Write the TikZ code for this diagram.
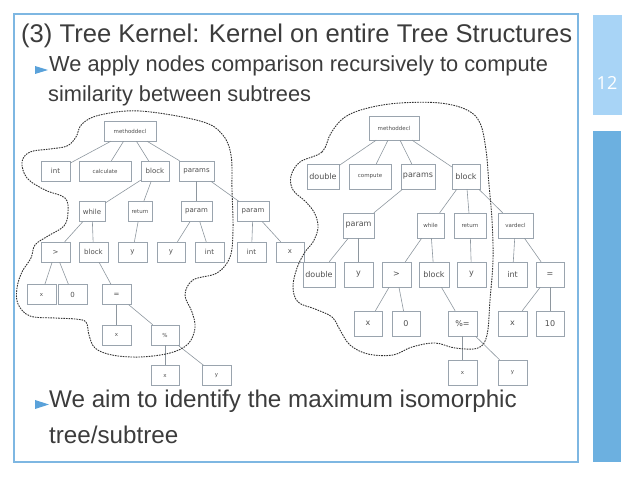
\documentclass[tikz,border=0pt]{standalone}
\usepackage{fontspec}
\setmainfont{Liberation Sans}
\newfontfamily\boxfont{DejaVu Sans}
\newfontfamily\numfont{Open Sans}
\usepackage{tikz}

\definecolor{framebl}{HTML}{7EB7E2}
\definecolor{lightbl}{HTML}{A8D4F6}
\definecolor{darkbl}{HTML}{6CB0E0}
\definecolor{bulletbl}{HTML}{5AA2DA}
\definecolor{slidetext}{HTML}{3C3C3C}
\definecolor{boxgray}{HTML}{9AA4AE}
\definecolor{boxtext}{HTML}{505050}
\definecolor{edgegray}{HTML}{8E979F}

\begin{document}
\begin{tikzpicture}[x=1pt, y=-1pt,
    tree node/.style={draw=boxgray, fill=white, text=boxtext, font=\boxfont\fontsize{7}{8}\selectfont, inner sep=1pt, minimum width=29, minimum height=20},
    big node/.style={tree node, font=\boxfont\fontsize{8}{9}\selectfont, minimum height=25},
    small text/.style={font=\boxfont\fontsize{5.5}{6}\selectfont},
    tree edge/.style={draw=edgegray, line width=0.6pt},
    blob line/.style={draw=black!80, line width=0.9pt, dash pattern=on 1.6pt off 1pt},
    slide text/.style={anchor=base west, text=slidetext, inner sep=0pt, font=\fontsize{21.8}{26}\selectfont},
    ]
  \useasboundingbox (0,0) rectangle (638,478);

  % slide frame and page tab
  \draw[framebl, line width=1.6pt] (14,14) rectangle (578,462);
  \fill[lightbl] (593,15) rectangle (622,115);
  \fill[darkbl] (593,131) rectangle (621,462);
  \node[text=white, font=\numfont\fontsize{18}{20}\selectfont] (pg) at (607,83) {12};

  \node[slide text, font=\fontsize{25.6}{30}\selectfont] (title) at (21,43) {(3) Tree Kernel: Kernel on entire Tree Structures};
  \fill[bulletbl] (35,66) -- (48,70) -- (35,74) -- cycle;
  \node[slide text] (t1) at (49,72) {We apply nodes comparison recursively to compute};
  \node[slide text] (t2) at (48,102) {similarity between subtrees};
  \fill[bulletbl] (35,400) -- (49,404.5) -- (35,409) -- cycle;
  \node[slide text, font=\fontsize{24.2}{29}\selectfont] (t3) at (49,408) {We aim to identify the maximum isomorphic};
  \node[slide text, font=\fontsize{24.2}{29}\selectfont] (t4) at (49,444) {tree/subtree};

  % left tree
  \node[tree node, small text, minimum width=52] (1) at (130,131) {methoddecl};
  \node[tree node] (2) at (55.5,171) {int};
  \node[tree node, small text, minimum width=52] (3) at (105,171) {calculate};
  \node[tree node, minimum width=28] (4) at (155,171) {block};
  \node[tree node, minimum width=35] (5) at (196.5,171) {params};
  \node[tree node, minimum width=26] (6) at (92,211.5) {while};
  \node[tree node, small text, minimum width=24] (7) at (140,211.5) {return};
  \node[tree node, minimum width=31] (8) at (196.5,211.5) {param};
  \node[tree node, minimum width=32] (9) at (253,211.5) {param};
  \node[tree node] (10) at (55.5,252) {>};
  \node[tree node] (11) at (93.5,252) {block};
  \node[tree node] (12) at (132.5,252) {y};
  \node[tree node, minimum width=28] (13) at (171,252) {y};
  \node[tree node] (14) at (209.5,252) {int};
  \node[tree node] (15) at (251.5,252) {int};
  \node[tree node, minimum width=28] (16) at (290,252) {x};
  \node[tree node, small text] (17) at (41.5,294.5) {x};
  \node[tree node] (18) at (72.5,294.5) {0};
  \node[tree node] (19) at (116.5,294.5) {=};
  \node[tree node, small text] (20) at (116.5,335) {x};
  \node[tree node, small text, minimum width=28] (21) at (165,335) {\%};
  \node[tree node, small text, minimum width=28] (22) at (165,375.5) {x};
  \node[tree node, small text] (23) at (216.5,375.5) {y};

  \draw[tree edge] (1) -- (2);
  \draw[tree edge] (1) -- (3);
  \draw[tree edge] (1) -- (4);
  \draw[tree edge] (1) -- (5);
  \draw[tree edge] (4) -- (6);
  \draw[tree edge] (4) -- (7);
  \draw[tree edge] (5) -- (8);
  \draw[tree edge] (5) -- (9);
  \draw[tree edge] (6) -- (10);
  \draw[tree edge] (6) -- (11);
  \draw[tree edge] (7) -- (12);
  \draw[tree edge] (8) -- (13);
  \draw[tree edge] (8) -- (14);
  \draw[tree edge] (9) -- (15);
  \draw[tree edge] (9) -- (16);
  \draw[tree edge] (10) -- (17);
  \draw[tree edge] (10) -- (18);
  \draw[tree edge] (11) -- (19);
  \draw[tree edge] (19) -- (20);
  \draw[tree edge] (19) -- (21);
  \draw[tree edge] (21) -- (22);
  \draw[tree edge] (21) -- (23);

  % right tree
  \node[big node, small text, minimum width=50, minimum height=24] (24) at (394,128) {methoddecl};
  \node[big node, minimum width=32] (25) at (323,176.5) {double};
  \node[big node, small text, minimum width=42] (26) at (370,176.5) {compute};
  \node[big node, minimum width=34] (27) at (418,176.5) {params};
  \node[big node, minimum width=28] (28) at (466,176.5) {block};
  \node[big node, minimum width=31] (29) at (358.5,225.5) {param};
  \node[big node, small text, minimum width=27] (30) at (430.5,225.5) {while};
  \node[big node, small text, minimum width=32] (31) at (470,225.5) {return};
  \node[big node, small text, minimum width=35] (32) at (515.5,225.5) {vardecl};
  \node[big node, minimum width=32] (33) at (319,274.5) {double};
  \node[big node] (34) at (358.5,274.5) {y};
  \node[big node] (35) at (396.5,274.5) {>};
  \node[big node, minimum width=30] (36) at (434,274.5) {block};
  \node[big node] (37) at (471.5,274.5) {y};
  \node[big node] (38) at (512.5,274.5) {int};
  \node[big node, minimum width=28] (39) at (550,274.5) {=};
  \node[big node, minimum width=28] (40) at (368,323.5) {x};
  \node[big node, minimum width=28] (41) at (406,323.5) {0};
  \node[big node] (42) at (462.5,323.5) {\%=};
  \node[big node] (43) at (512.5,323.5) {x};
  \node[big node, minimum width=28] (44) at (550,323.5) {10};
  \node[big node, small text] (45) at (462.5,372.5) {x};
  \node[big node, small text] (46) at (512.5,372.5) {y};

  \draw[tree edge] (24) -- (25);
  \draw[tree edge] (24) -- (26);
  \draw[tree edge] (24) -- (27);
  \draw[tree edge] (24) -- (28);
  \draw[tree edge] (27) -- (29);
  \draw[tree edge] (28) -- (30);
  \draw[tree edge] (28) -- (31);
  \draw[tree edge] (28) -- (32);
  \draw[tree edge] (29) -- (33);
  \draw[tree edge] (29) -- (34);
  \draw[tree edge] (30) -- (35);
  \draw[tree edge] (30) -- (36);
  \draw[tree edge] (31) -- (37);
  \draw[tree edge] (32) -- (38);
  \draw[tree edge] (32) -- (39);
  \draw[tree edge] (35) -- (40);
  \draw[tree edge] (35) -- (41);
  \draw[tree edge] (36) -- (42);
  \draw[tree edge] (39) -- (43);
  \draw[tree edge] (39) -- (44);
  \draw[tree edge] (42) -- (45);
  \draw[tree edge] (42) -- (46);

  % common subtrees
  \draw[blob line] plot[smooth cycle, tension=0.6] coordinates {
    (100,115) (140,111) (200,121) (222,134) (231,155) (232,190) (233,230)
    (230,257) (217,273) (193,280) (185,295) (192,312) (195,328) (188,344)
    (170,353) (140,357) (112,355) (95,348) (89,335) (86,322) (75,319)
    (55,318) (30,316) (18,304) (17,288) (22,272) (31,258) (35,245)
    (48,236) (64,226) (68,212) (65,198) (45,190) (27,178) (22,162)
    (30,152) (50,149) (67,146) (76,137) (82,124)};
  \draw[blob line] plot[smooth cycle, tension=0.6] coordinates {
    (300,162) (322,152) (331,133) (345,117) (368,108) (400,103) (440,103)
    (467,110) (480,123) (486,150) (489,185) (492,220) (493,260) (490,300)
    (487,335) (478,348) (455,348) (435,343) (412,347) (393,355) (368,354)
    (350,345) (340,330) (332,317) (315,309) (298,302) (293,287) (297,268)
    (305,252) (313,242) (318,228) (315,214) (306,202) (293,190) (291,176)};
\end{tikzpicture}
\end{document}
